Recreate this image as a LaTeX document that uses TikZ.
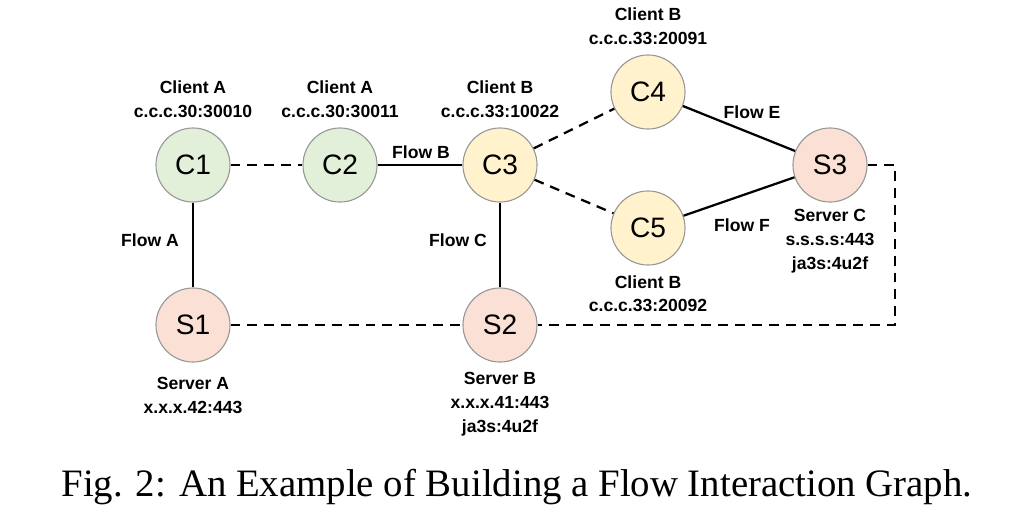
\documentclass[tikz,border=0pt]{standalone}
\usepackage{fontspec}
\setmainfont{Liberation Serif}
\newfontfamily\lsans{Liberation Sans}
\usetikzlibrary{positioning}
\definecolor{cgreen}{HTML}{E2EFD9}
\definecolor{cyellow}{HTML}{FFF2CC}
\definecolor{cpink}{HTML}{FBE0D6}
\begin{document}
\begin{tikzpicture}[x=0.025cm,y=-0.025cm,
host/.style={
circle,
minimum size=1.85cm,
inner sep=0,
draw=black!40,
line width=0.8pt,
font=\lsans\fontsize{20}{22}\selectfont
},
client/.style={host,fill=cyellow},
clientg/.style={host,fill=cgreen},
server/.style={host,fill=cpink},
info/.style={
draw=none,
align=center,
font=\lsans\bfseries\fontsize{12.5}{17}\selectfont
},
flow/.style={
draw=none,
font=\lsans\bfseries\fontsize{12.5}{14}\selectfont
},
link/.style={line width=1.6pt},
dlink/.style={line width=1.6pt,dash pattern=on 7pt off 5pt}
]
\useasboundingbox (0,0) rectangle (1033,509);

\node [clientg] at (193,165) (c1) {C1};
\node [clientg] at (340,165) (c2) {C2};
\node [client] at (500,165) (c3) {C3};
\node [client] at (648,92) (c4) {C4};
\node [client] at (648,228) (c5) {C5};
\node [server] at (830,165) (s3) {S3};
\node [server] at (193,325) (s1) {S1};
\node [server] at (500,325) (s2) {S2};

\node [info,above=0.12cm of c1] (lc1) {Client A\\c.c.c.30:30010};
\node [info,above=0.12cm of c2] (lc2) {Client A\\c.c.c.30:30011};
\node [info,above=0.12cm of c3] (lc3) {Client B\\c.c.c.33:10022};
\node [info,above=0.12cm of c4] (lc4) {Client B\\c.c.c.33:20091};
\node [info,below=0.12cm of c5] (lc5) {Client B\\c.c.c.33:20092};
\node [info,below=0.25cm of s1] (ls1) {Server A\\x.x.x.42:443};
\node [info,below=0.12cm of s2] (ls2) {Server B\\x.x.x.41:443\\ja3s:4u2f};
\node [info,below=0.05cm of s3] (ls3) {Server C\\s.s.s.s:443\\ja3s:4u2f};

\node [flow] at (150,240) (fa) {Flow A};
\node [flow] at (421,152) (fb) {Flow B};
\node [flow] at (458,240) (fc) {Flow C};
\node [flow] at (752,112) (fe) {Flow E};
\node [flow] at (742,225) (ff) {Flow F};

\coordinate (r1) at (895,165);
\coordinate (r2) at (895,325);

\draw[link] (c1) -- (s1);
\draw[dlink] (c1) -- (c2);
\draw[link] (c2) -- (c3);
\draw[link] (c3) -- (s2);
\draw[dlink] (c3) -- (c4);
\draw[dlink] (c3) -- (c5);
\draw[link] (c4) -- (s3);
\draw[link] (c5) -- (s3);
\draw[dlink] (s1) -- (s2);
\draw[dlink] (s3) -- (r1) -- (r2) -- (s2);

\node [draw=none,font=\fontsize{27.6}{30}\selectfont] at (517,487) (cap) {Fig. 2: An Example of Building a Flow Interaction Graph.};
\end{tikzpicture}
\end{document}
